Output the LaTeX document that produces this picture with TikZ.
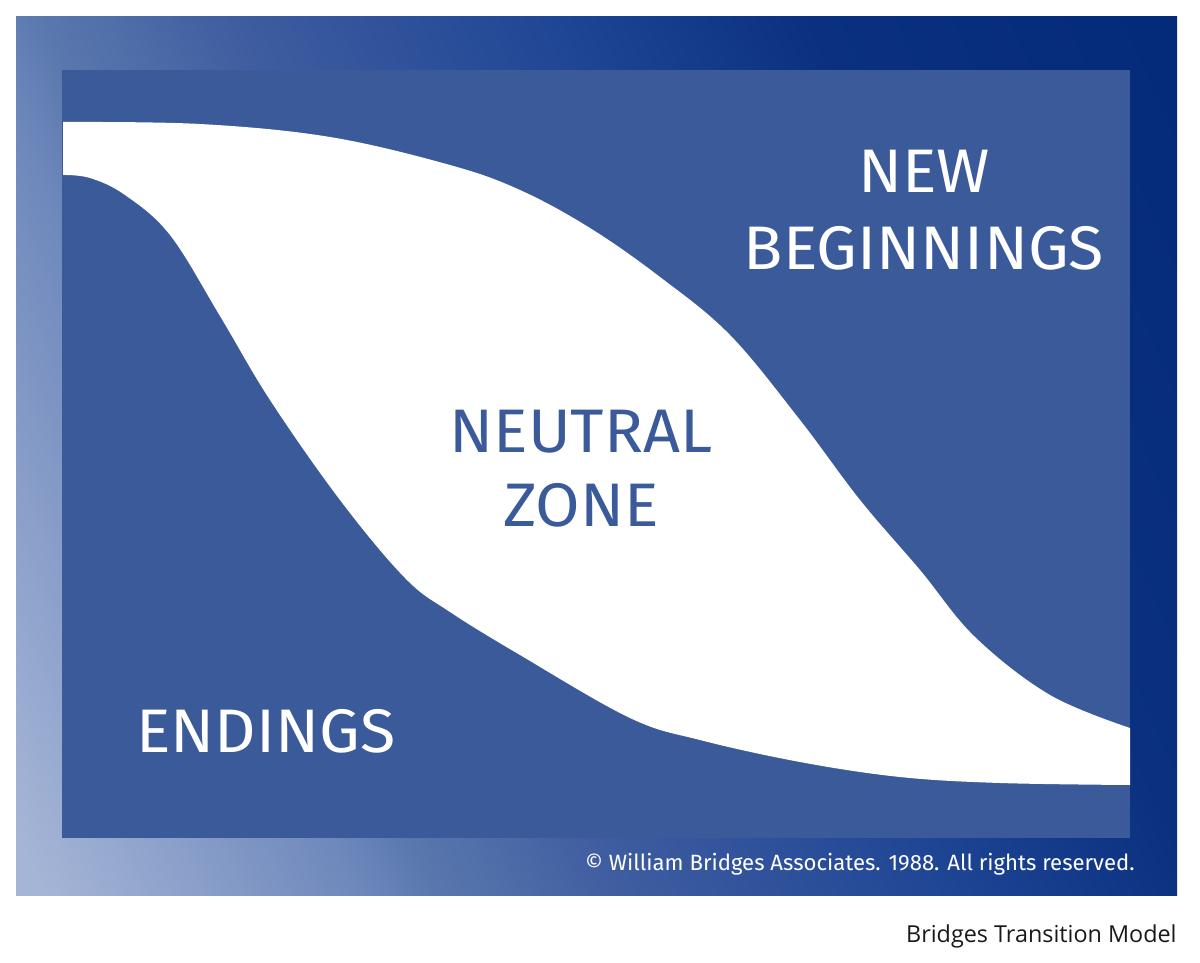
\documentclass[tikz,border=0pt]{standalone}
\usepackage{fontspec}
\setmainfont{Fira Sans}
\newfontfamily\phasefont[FakeStretch=1.05]{Fira Sans}
\newfontfamily\captionfont{Open Sans}
\usepackage{tikz}
\definecolor{frameA}{HTML}{A5B5D6}
\definecolor{frameB}{HTML}{6E88BC}
\definecolor{frameC}{HTML}{5A78AD}
\definecolor{frameD}{HTML}{3F5DA0}
\definecolor{frameE}{HTML}{1E4594}
\definecolor{frameF}{HTML}{0A307F}
\definecolor{frameG}{HTML}{042A7A}
\definecolor{zoneblue}{HTML}{3B5A9A}
\pgfdeclarehorizontalshading{framefade}{100bp}{color(0bp)=(frameA); color(18bp)=(frameA); color(31.5bp)=(frameB); color(34.6bp)=(frameC); color(42.7bp)=(frameD); color(57bp)=(frameE); color(67.5bp)=(frameF); color(82bp)=(frameG); color(100bp)=(frameG)}
\tikzset{phase/.style={text=white,font=\phasefont\fontsize{35}{44}\selectfont,align=center,inner sep=0pt},
 zonetext/.style={phase,text=zoneblue,font=\phasefont\fontsize{35}{42}\selectfont}}

\begin{document}
\begin{tikzpicture}[x=0.02cm,y=-0.02cm]
\useasboundingbox (0,0) rectangle (1200,963);
\shade[shading=framefade,shading angle=24] (16,17) rectangle (1177,895);
\fill[zoneblue] (62,70) rectangle (1130,838);
\fill[white] plot[smooth,tension=0.6] coordinates {(63,122) (200,124) (330,137) (450,165) (520,190) (590,228) (660,277) (730,335) (800,420) (860,500) (920,570) (975,637) (1050,695) (1130,728)}
 -- plot[smooth,tension=0.6] coordinates {(1130,785) (1000,783) (900,777) (800,762) (700,740) (630,718) (520,655) (450,612) (405,578) (340,500) (270,400) (220,316) (170,235) (125,195) (90,178) (63,175)} -- cycle;
\node[phase] (newbeg) at (924,210) {NEW\\BEGINNINGS};
\node[zonetext] (neutral) at (581,469) {NEUTRAL\\ZONE};
\node[phase] (endings) at (266,731) {ENDINGS};
\node[text=white,font=\fontsize{12.6}{15}\selectfont,anchor=east,inner sep=0pt] (copyright) at (1135,864) {© William Bridges Associates. 1988. All rights reserved.};
\node[text=black!90,font=\captionfont\fontsize{13.3}{16}\selectfont,anchor=east,inner sep=0pt] (caption) at (1177,936) {Bridges Transition Model};
\end{tikzpicture}
\end{document}
